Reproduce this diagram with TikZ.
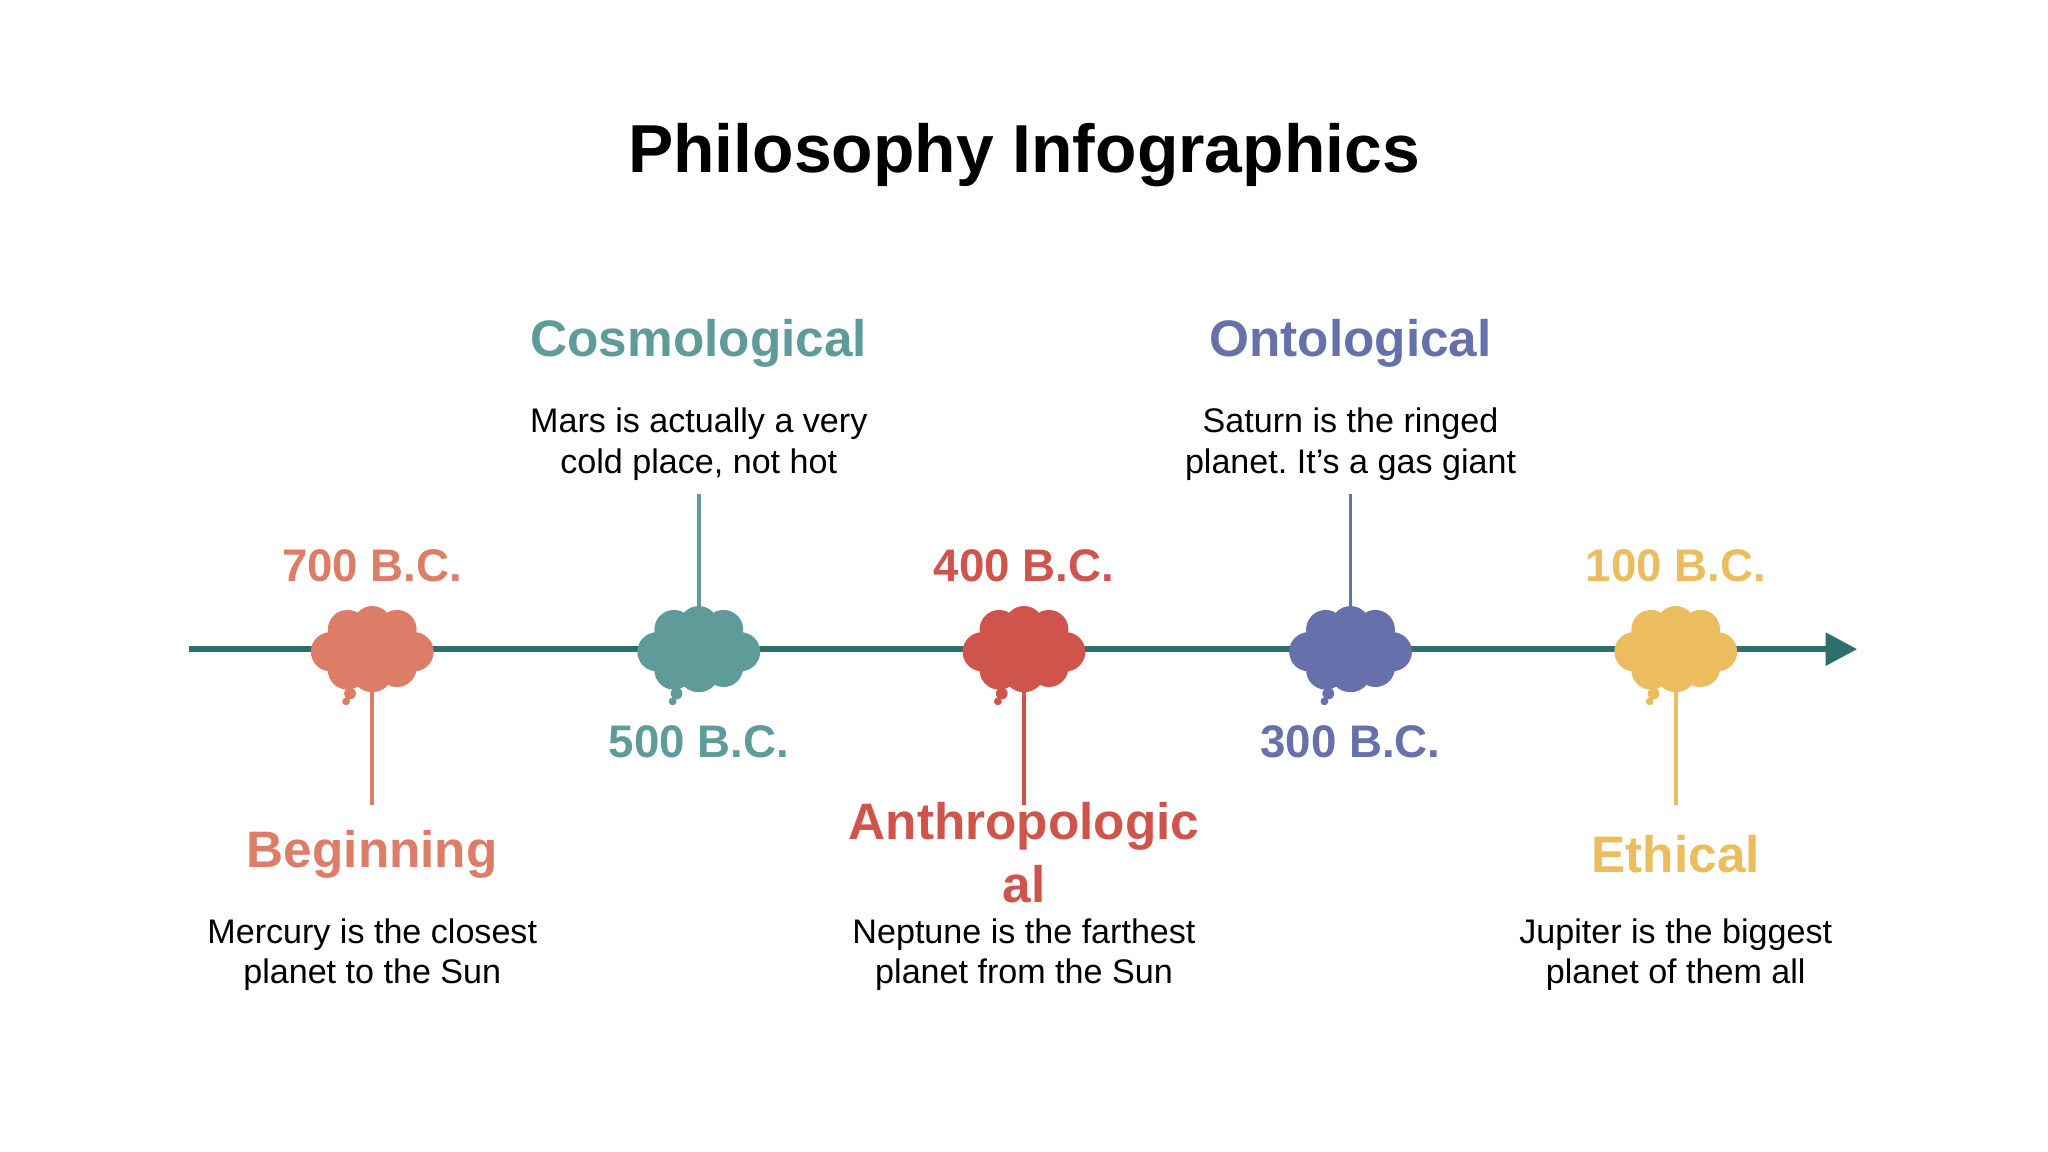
\documentclass[tikz,border=0pt]{standalone}
\usepackage{fontspec}
\setmainfont{Liberation Sans}
\frenchspacing
\usetikzlibrary{arrows.meta}
\definecolor{axisc}{HTML}{2E6F6D}
\definecolor{cA}{HTML}{DB7D67}
\definecolor{cB}{HTML}{5F9C99}
\definecolor{cC}{HTML}{CF554C}
\definecolor{cD}{HTML}{6670AA}
\definecolor{cE}{HTML}{ECBD5E}
\tikzset{
  year/.style={font=\fontsize{13}{15}\selectfont\bfseries},
  head/.style={font=\fontsize{14.6}{17.8}\selectfont\bfseries,align=center},
  desc/.style={font=\fontsize{9.7}{11.5}\selectfont,align=center},
  stem/.style={line width=1.1pt}
}
% cloud drawn around a named point
\newcommand{\thinkcloud}[2]{%
  \foreach \dx/\dy/\r in {-32/2/15,-19/-15/15,0/-18/15,19/-15/15,32/2/15,
                          -19/16/15,0/17/16,19/14/15,0/0/22}
    \fill[#2] ([xshift=\dx*0.01306cm,yshift=-\dy*0.01306cm]#1) circle (\r*0.01306cm);
  \fill[#2] ([xshift=-17*0.01306cm,yshift=-34*0.01306cm]#1) circle (4.5*0.01306cm);
  \fill[#2] ([xshift=-20*0.01306cm,yshift=-40*0.01306cm]#1) circle (3*0.01306cm);
}
\begin{document}
\begin{tikzpicture}[x=0.01306cm,y=-0.01306cm]
\useasboundingbox[fill=white] (0,0) rectangle (1568,882);

\node[font=\fontsize{19.3}{22}\selectfont\bfseries] (title) at (784,119) {Philosophy Infographics};

% axis
\coordinate (start) at (145,497);
\coordinate (end) at (1422,497);
\draw[axisc,line width=1.9pt,-{Triangle[length=9pt,width=9pt]}] (start) -- (end);

% clouds
\coordinate (k1) at (285,497);
\coordinate (k2) at (535,497);
\coordinate (k3) at (784,497);
\coordinate (k4) at (1034,497);
\coordinate (k5) at (1283,497);

% stems
\coordinate (s1) at (285,616);
\coordinate (s2) at (535,378);
\coordinate (s3) at (784,616);
\coordinate (s4) at (1034,378);
\coordinate (s5) at (1283,616);
\draw[stem,cA] (k1) -- (s1);
\draw[stem,cB] (k2) -- (s2);
\draw[stem,cC] (k3) -- (s3);
\draw[stem,cD] (k4) -- (s4);
\draw[stem,cE] (k5) -- (s5);

\thinkcloud{k1}{cA}
\thinkcloud{k2}{cB}
\thinkcloud{k3}{cC}
\thinkcloud{k4}{cD}
\thinkcloud{k5}{cE}

% years
\node[year,cA] (y1) at (285,433) {700 B.C.};
\node[year,cB] (y2) at (535,568) {500 B.C.};
\node[year,cC] (y3) at (784,433) {400 B.C.};
\node[year,cD] (y4) at (1034,568) {300 B.C.};
\node[year,cE] (y5) at (1283,433) {100 B.C.};

% headings
\node[head,cA] (h1) at (285,654) {Beginning};
\node[head,cB] (h2) at (535,263) {Cosmological};
\node[head,cC] (h3) at (784,653) {Anthropologic\\al};
\node[head,cD] (h4) at (1034,263) {Ontological};
\node[head,cE] (h5) at (1283,654) {Ethical};

% descriptions
\node[desc] (d1) at (285,731) {Mercury is the closest\\planet to the Sun};
\node[desc] (d2) at (535,340) {Mars is actually a very\\cold place, not hot};
\node[desc] (d3) at (784,731) {Neptune is the farthest\\planet from the Sun};
\node[desc] (d4) at (1034,340) {Saturn is the ringed\\planet. It’s a gas giant};
\node[desc] (d5) at (1283,731) {Jupiter is the biggest\\planet of them all};
\end{tikzpicture}
\end{document}
